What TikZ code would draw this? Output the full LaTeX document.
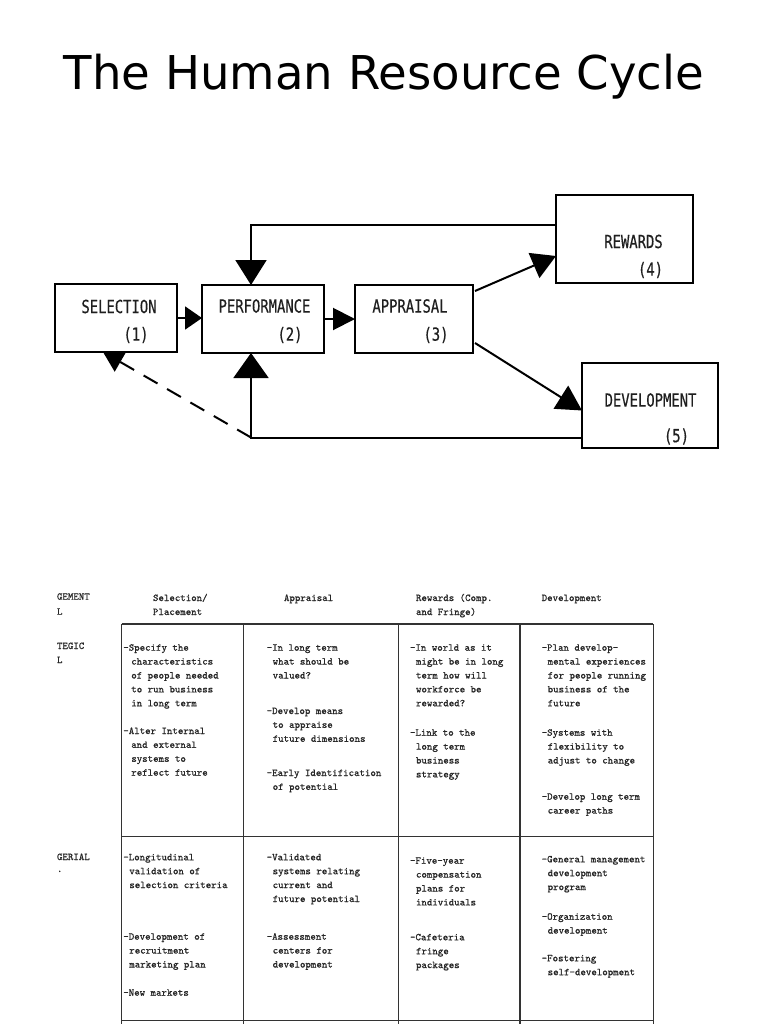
\documentclass[tikz,border=0pt]{standalone}
\usepackage{fontspec}
\setmainfont{DejaVu Sans}
\newfontfamily\boxfont[FakeStretch=0.77,FakeBold=0.4]{DejaVu Sans Mono}
\newfontfamily\tabfont{lmmono10-regular}[Extension=.otf,FakeBold=0.8]
\usetikzlibrary{arrows.meta,calc}
\newcommand\cellfont{\fontsize{10.4}{13.9}\selectfont\tabfont}
\newcommand\myrule{\rule{0pt}{10pt}}
\newcommand\myind{\hspace*{6pt}}
\newcommand\myindb{\hspace*{8pt}}
\begin{document}
\begin{tikzpicture}[x=1pt,y=-1pt,
  box/.style={draw=black, line width=2.4pt, inner sep=0pt, outer sep=0pt},
  lbl/.style={font=\boxfont\fontsize{18}{18}\selectfont, inner sep=0pt, text=black!88},
  conn/.style={draw=black, line width=2pt},
  cell/.style={anchor=north west, inner sep=0pt, outer sep=0pt, align=left, font=\cellfont, text=black!85},
  tline/.style={draw=black!80, line width=1.2pt},
  tlinethick/.style={draw=black!80, line width=1.8pt}]
\useasboundingbox (0,0) rectangle (768,1024);
\fill[white] (0,0) rectangle (768,1024);

% title
\node[font=\fontsize{46.6}{50}\selectfont, anchor=base, inner sep=0pt] (title) at (384,90) {The Human Resource Cycle};

% boxes
\node[box, minimum width=122pt, minimum height=68pt] (sel) at (116,318) {};
\node[box, minimum width=122pt, minimum height=68pt] (perf) at (263,319) {};
\node[box, minimum width=118pt, minimum height=68pt] (app) at (414,319) {};
\node[box, minimum width=137pt, minimum height=88pt] (rew) at (624.5,239) {};
\node[box, minimum width=136pt, minimum height=85pt] (dev) at (650,405.5) {};

% box labels
\node[lbl] (selt) at (119,306.5) {SELECTION};
\node[lbl] (seln) at (136,335) {(1)};
\node[lbl] (perft) at (264.5,306) {PERFORMANCE};
\node[lbl] (perfn) at (290,335) {(2)};
\node[lbl] (appt) at (410,306) {APPRAISAL};
\node[lbl] (appn) at (436,335) {(3)};
\node[lbl] (rewt) at (633.5,241.5) {REWARDS};
\node[lbl] (rewn) at (650.5,270) {(4)};
\node[lbl] (devt) at (650.5,400) {DEVELOPMENT};
\node[lbl] (devn) at (676.5,436.5) {(5)};

% connectors
\coordinate (pt) at ($(perf.north west)+(49,0)$);
\coordinate (pb) at ($(perf.south west)+(49,0)$);
\coordinate (rl) at ($(rew.west)+(0,-14)$);
\coordinate (dl) at ($(dev.west)+(0,32)$);
\coordinate (corner) at (pb |- dl);
\coordinate (selb) at ($(sel.south west)+(48,0)$);

\draw[conn, -{Triangle[length=17pt,width=23pt]}] (sel.east) -- (perf.west |- sel.east);
\draw[conn, -{Triangle[length=22pt,width=22pt]}] (perf.east) -- (app.west |- perf.east);
\draw[conn, -{Triangle[length=24pt,width=27pt]}] ($(app.north east)+(2,6)$) -- ($(rew.west)+(0,17)$);
\draw[conn, -{Triangle[length=25pt,width=27pt]}] ($(app.south east)+(2,-10)$) -- ($(dev.west)+(0,5)$);
\draw[conn, -{Triangle[length=25pt,width=31pt]}] (rl) -| (pt);
\draw[conn, -{Triangle[length=25pt,width=35pt]}] (dl) -- (corner) -- (pb);
\draw[conn, dash pattern=on 16pt off 11pt, -{Triangle[length=20pt,width=22pt]}] (corner) -- (selb);

% table lines
\draw[tlinethick] (121.7,624) -- (653.3,624);
\draw[tline] (121.7,836.7) -- (653.3,836.7);
\draw[tline] (121.7,1020.5) -- (653.3,1020.5);
\foreach \xx in {121.7,243.3,398.3,520,653.3} {\draw[tline] (\xx,624) -- (\xx,1024);}

% table header
\node[cell, font=\fontsize{10.4}{15}\selectfont\tabfont] (h0) at (57,589.7) {\myrule GEMENT\\L};
\node[cell, font=\fontsize{10.4}{14}\selectfont\tabfont] (h1) at (153,591) {\myrule Selection/\\Placement};
\node[cell] (h2) at (284,591) {\myrule Appraisal};
\node[cell, font=\fontsize{10.4}{14}\selectfont\tabfont] (h3) at (416,591) {\myrule Rewards (Comp.\\and Fringe)};
\node[cell] (h4) at (541.7,591) {\myrule Development};

% row labels
\node[cell, font=\fontsize{10.4}{14}\selectfont\tabfont] (r1) at (57,639) {\myrule TEGIC\\L};
\node[cell, font=\fontsize{10.4}{12}\selectfont\tabfont] (r2) at (57,850) {\myrule GERIAL\\.};

% row 1
\node[cell] (a1) at (123.3,640.7) {\myrule -Specify the\\\myindb characteristics\\\myindb of people needed\\\myindb to run business\\\myindb in long term};
\node[cell] (a2) at (123.3,724) {\myrule -Alter Internal\\\myindb and external\\\myindb systems to\\\myindb reflect future};
\node[cell] (b1) at (266.7,640.7) {\myrule -In long term\\\myind what should be\\\myind valued?};
\node[cell] (b2) at (266.7,704) {\myrule -Develop means\\\myind to appraise\\\myind future dimensions};
\node[cell] (b3) at (266.7,766) {\myrule -Early Identification\\\myind of potential};
\node[cell] (c1) at (410,640.7) {\myrule -In world as it\\\myind might be in long\\\myind term how will\\\myind workforce be\\\myind rewarded?};
\node[cell] (c2) at (410,725.7) {\myrule -Link to the\\\myind long term\\\myind business\\\myind strategy};
\node[cell] (d1) at (541.7,640.7) {\myrule -Plan develop-\\\myind mental experiences\\\myind for people running\\\myind business of the\\\myind future};
\node[cell] (d2) at (541.7,725.7) {\myrule -Systems with\\\myind flexibility to\\\myind adjust to change};
\node[cell] (d3) at (541.7,789.7) {\myrule -Develop long term\\\myind career paths};

% row 2
\node[cell] (e1) at (123.3,850.3) {\myrule -Longitudinal\\\myind validation of\\\myind selection criteria};
\node[cell] (e2) at (123.3,929.7) {\myrule -Development of\\\myind recruitment\\\myind marketing plan};
\node[cell] (e3) at (123.3,985.7) {\myrule -New markets};
\node[cell] (f1) at (266.7,850.3) {\myrule -Validated\\\myind systems relating\\\myind current and\\\myind future potential};
\node[cell] (f2) at (266.7,929.7) {\myrule -Assessment\\\myind centers for\\\myind development};
\node[cell] (g1) at (410,853.7) {\myrule -Five-year\\\myind compensation\\\myind plans for\\\myind individuals};
\node[cell] (g2) at (410,930.3) {\myrule -Cafeteria\\\myind fringe\\\myind packages};
\node[cell] (k1) at (541.7,852.3) {\myrule -General management\\\myind development\\\myind program};
\node[cell] (k2) at (541.7,909.7) {\myrule -Organization\\\myind development};
\node[cell] (k3) at (541.7,951.3) {\myrule -Fostering\\\myind self-development};
\end{tikzpicture}
\end{document}
